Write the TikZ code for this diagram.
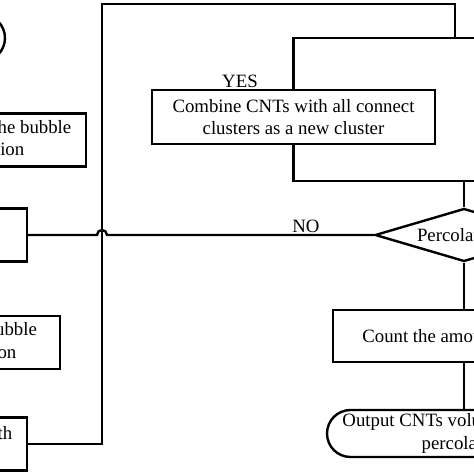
\documentclass[tikz,border=0pt]{standalone}
\usepackage{fontspec}
\setmainfont{Liberation Serif}
\usetikzlibrary{shapes.geometric}
\tikzset{
  proc/.style={draw,line width=2.4pt,rectangle,align=center,minimum height=53pt,inner sep=0pt},
  term/.style={draw,line width=2.4pt,rectangle,rounded corners=23.5pt,align=center,minimum height=47pt,inner sep=0pt},
  decide/.style={draw,line width=2.4pt,diamond,aspect=3.36,minimum width=178pt,minimum height=53pt,inner sep=0pt},
  link/.style={line width=2.4pt}
}
\begin{document}
\begin{tikzpicture}[x=1pt,y=-1pt,font=\fontsize{18.8}{22.5}\selectfont]
\useasboundingbox (0,0) rectangle (474,474);
\clip (0,0) rectangle (474,474);
\node[term,minimum width=140pt] (start) at (-65,38) {};
\node[proc,minimum width=184pt] (calc) at (-6,140) {Calculate the bubble\\position};
\node[proc,minimum width=184pt] (nucl) at (-65,235) {};
\node[proc,minimum width=184pt] (upd) at (-32,342.5) {Update the bubble\\new position};
\node[proc,minimum width=184pt] (grow) at (-65,444) {Compute the growth\\of bubbles};
\node[proc,minimum width=283pt,minimum height=54pt] (comb) at (293.5,117) {Combine CNTs with all connect\\clusters as a new cluster};
\node[decide] (perc) at (464,235) {Percolation?};
\node[proc,minimum width=262pt,minimum height=52pt] (cnt) at (464,336) {Count the amount of CNTs};
\node[term,minimum width=274pt] (out) at (464,433.5) {Output CNTs volume fraction at\\percolation};
\node[anchor=base] (yes) at (240,87) {YES};
\node[anchor=base] (no) at (306,232) {NO};
\coordinate (upL) at (102,4);
\coordinate (upR) at (455,38);
\coordinate (loopT) at (520,38);
\coordinate (loopB) at (520,181);
\draw[link] (grow.east) -| (upL) -| (upR);
\draw[link] (nucl.east) -- ([xshift=-5pt]nucl.east -| upL) arc[start angle=180,end angle=0,radius=5pt] -- (perc.west);
\draw[link] (comb.north) |- (loopT);
\draw[link] (comb.south) |- (loopB);
\draw[link] (perc.north) -- (perc.north |- loopB);
\draw[link] (perc.south) -- (cnt.north);
\draw[link] (cnt.south) -- (out.north);
\end{tikzpicture}
\end{document}
